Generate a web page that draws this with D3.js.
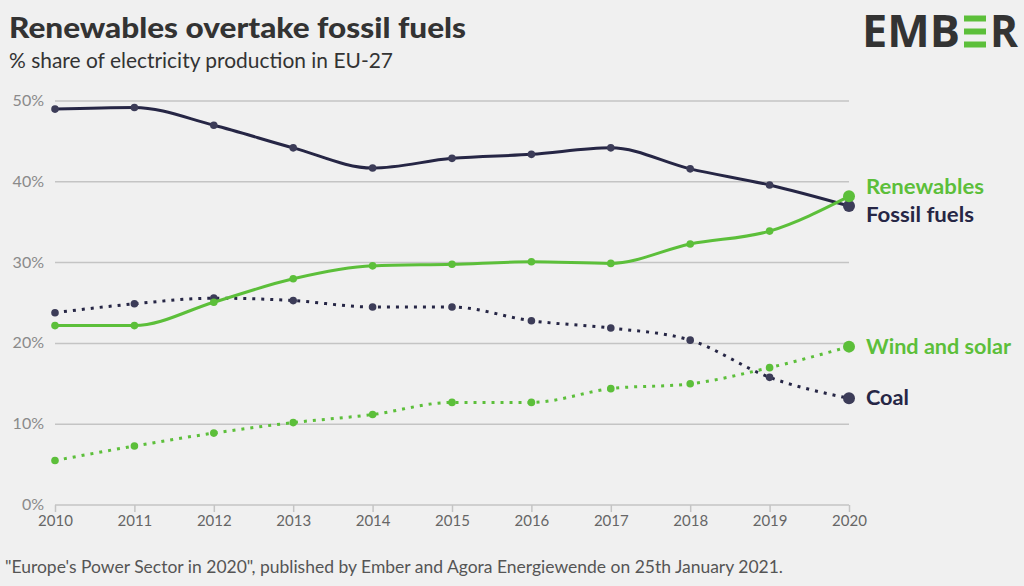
<!DOCTYPE html>
<html><head><meta charset="utf-8">
<script src="https://cdn.jsdelivr.net/npm/d3@7"></script>
<style>
html,body{margin:0;padding:0;background:#f0f0f0;}
svg{display:block;}
</style></head>
<body>
<svg id="chart" width="1024" height="586"></svg>
<script>
const years = [2010,2011,2012,2013,2014,2015,2016,2017,2018,2019,2020];
const fossil = [49.0,49.2,47.0,44.2,41.7,42.9,43.4,44.2,41.6,39.6,37.0];
const renewables = [22.2,22.2,25.1,28.0,29.6,29.8,30.1,29.9,32.3,33.9,38.2];
const coal = [23.8,24.9,25.6,25.3,24.5,24.5,22.8,21.9,20.4,15.8,13.2];
const windSolar = [5.5,7.3,8.9,10.2,11.2,12.7,12.7,14.4,15.0,17.0,19.6];
const yTicks = [0,10,20,30,40,50];
const seriesNames = ["Renewables","Fossil fuels","Wind and solar","Coal"];

const dark = "#262645", green = "#5cbf3a";
const svg = d3.select("#chart");
const x = d3.scaleLinear().domain([2010,2020]).range([55,849]);
const y = d3.scaleLinear().domain([0,50]).range([505,101]);

// title
svg.append("text").attr("x",9).attr("y",38).text("Renewables overtake fossil fuels")
  .attr("font-family","Lato, 'Noto Sans', sans-serif").attr("font-weight","900").attr("font-size",29)
  .attr("textLength",457).attr("lengthAdjust","spacingAndGlyphs").attr("fill","#333");
svg.append("text").attr("x",9).attr("y",68).text("% share of electricity production in EU-27")
  .attr("font-family","Lato, 'Noto Sans', sans-serif").attr("font-size",21)
  .attr("textLength",384).attr("lengthAdjust","spacingAndGlyphs").attr("fill","#333");

// logo
const logo = svg.append("g").attr("font-family","'Open Sans', 'DejaVu Sans', sans-serif").attr("font-weight","bold").attr("font-size",44).attr("fill","#333");
logo.append("text").attr("x",862).attr("y",47).attr("textLength",98).attr("lengthAdjust","spacingAndGlyphs").text("EMB");
const ex = 964;
[0,1,2].forEach(i=>logo.append("rect").attr("x",ex).attr("y",15.5+i*13).attr("width",22).attr("height",6).attr("fill",green));
logo.append("text").attr("x",990).attr("y",47).attr("textLength",28).attr("lengthAdjust","spacingAndGlyphs").text("R");

// grid
svg.append("g").selectAll("line").data(yTicks.filter(d=>d>0)).join("line")
  .attr("x1",55).attr("x2",849).attr("y1",d=>y(d)).attr("y2",d=>y(d))
  .attr("stroke","#c4c4c4").attr("stroke-width",1.5);

// y labels
svg.append("g").selectAll("text").data(yTicks).join("text")
  .attr("x",44).attr("y",d=>y(d)+5).attr("text-anchor","end").text(d=>d+"%")
  .attr("font-family","Lato, sans-serif").attr("font-size",16).attr("fill","#8a8a8a");

// x axis
const xa = svg.append("g").attr("transform","translate(0,505)")
  .call(d3.axisBottom(x).tickValues(years).tickFormat(d3.format("d")).tickSize(7).tickPadding(3));
xa.select(".domain").attr("stroke","#c4c4c4").attr("stroke-width",1.5).attr("d","M55,0H849");
xa.selectAll(".tick line").attr("stroke","#c4c4c4").attr("stroke-width",1.5);
xa.selectAll(".tick text").attr("font-family","Lato, sans-serif").attr("font-size",15).attr("fill","#666");

const series = [
  {name:seriesNames[1], vals:fossil, color:dark, dash:null, ly:215, w:108},
  {name:seriesNames[3], vals:coal, color:dark, dash:"3 6", ly:398, w:43},
  {name:seriesNames[0], vals:renewables, color:green, dash:null, ly:187, w:118},
  {name:seriesNames[2], vals:windSolar, color:green, dash:"3 6", ly:347, w:145},
];
const line = d3.line().x((d,i)=>x(years[i])).y(d=>y(d)).curve(d3.curveMonotoneX);
series.forEach(s=>{
  const g = svg.append("g");
  g.append("path").attr("d",line(s.vals)).attr("fill","none").attr("stroke",s.color)
    .attr("stroke-width",3).attr("stroke-dasharray",s.dash);
  const ptColor = s.color===dark ? "#3c3c58" : green;
  g.selectAll("circle").data(s.vals).join("circle")
    .attr("cx",(d,i)=>x(years[i])).attr("cy",d=>y(d))
    .attr("r",(d,i)=>i===s.vals.length-1?6:3.8).attr("fill",ptColor);
  g.append("text").attr("x",866).attr("y",s.ly+7).text(s.name)
    .attr("font-family","Lato, 'Noto Sans', sans-serif").attr("font-weight","bold").attr("font-size",20)
    .attr("textLength",s.w).attr("lengthAdjust","spacingAndGlyphs").attr("fill",s.color);
});

// footer
svg.append("text").attr("x",5).attr("y",573)
  .text("\"Europe's Power Sector in 2020\", published by Ember and Agora Energiewende on 25th January 2021.")
  .attr("font-family","Lato, sans-serif").attr("font-size",17)
  .attr("textLength",778).attr("lengthAdjust","spacingAndGlyphs").attr("fill","#555");
</script>
</body></html>
